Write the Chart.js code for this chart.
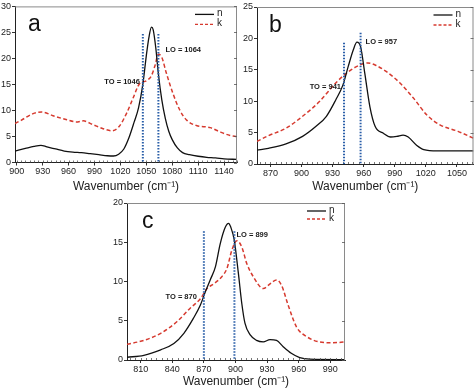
<!DOCTYPE html>
<html><head><meta charset="utf-8">
<script src="https://cdn.jsdelivr.net/npm/chart.js@4.4.1/dist/chart.umd.min.js"></script>
<style>
html,body{margin:0;padding:0;background:#fff;}
body{width:474px;height:392px;position:relative;overflow:hidden;}
.p{position:absolute;}
</style></head><body>
<div class="p" style="left:0;top:0;width:240px;height:195px"><canvas id="ca"></canvas></div>
<div class="p" style="left:240px;top:0;width:234px;height:195px"><canvas id="cb"></canvas></div>
<div class="p" style="left:110px;top:195px;width:240px;height:197px"><canvas id="cc"></canvas></div>
<script>
// ---------- Panel a ----------
const aNx = [898,910,920,928,935,945,955,965,975,985,995,1005,1012,1018,1024,1030,1036,1041,1046,1050,1053,1056,1058,1061,1064,1068,1072,1076,1080,1086,1092,1100,1110,1120,1130,1140,1155];
const aNy = [2.2,2.7,3.1,3.3,3.0,2.6,2.2,2.0,1.9,1.7,1.5,1.3,1.25,1.6,2.6,4.8,7.8,10.5,15.0,20.5,24,26,25.5,22,17,12,8.5,6,4.4,2.8,1.9,1.5,1.2,1.0,0.9,0.7,0.6];
const aKx = [898,905,919,929,942,958,969,977,988,1000,1010,1018,1027,1035,1042,1050,1056,1060,1064,1068,1073,1081,1089,1097,1108,1124,1135,1147,1155];
const aKy = [7.5,8.1,9.4,9.7,9.0,8.2,7.8,8.0,7.3,6.5,6.1,6.8,9.4,12.5,15.1,15.7,16.7,18.6,20.8,20.2,17.3,13.2,10.0,8.1,7.1,6.7,5.9,5.2,5.0];
const aXTicks = [900,930,960,990,1020,1050,1080,1110,1140];
const aYTicks = [0,5,10,15,20,25,30];
const aModes = [1046, 1064];
const aModeLabels = ['TO = 1046','LO = 1064'];

// ---------- Panel b ----------
const bNx = [857,868,885,901,914,924,933,940,945,950,953.5,957,961,966,971,979,986,992,998,1003,1011,1018,1031,1066];
const bNy = [2.2,2.5,3.2,4.4,6.0,7.6,10.2,12.6,15.5,18.2,19.4,18.7,14.5,9.1,6.0,4.9,4.3,4.4,4.6,4.3,3.0,2.3,2.1,2.1];
const bKx = [857,868,885,901,917,933,943,953,964,973,982,995,1008,1021,1034,1051,1066];
const bKy = [3.6,4.5,5.7,7.6,9.9,12.9,14.4,15.5,16.1,15.6,14.7,12.9,10.5,7.8,6.2,5.2,4.1];
const bXTicks = [870,900,930,960,990,1020,1050];
const bYTicks = [0,5,10,15,20,25];
const bModes = [941, 957];
const bModeLabels = ['TO = 941','LO = 957'];

// ---------- Panel c ----------
const cNx = [797,813,829,841.5,851,860,866.7,871.4,876,881,885.5,890.3,893.4,895.6,898.8,902.8,906,909,914,920,926.4,932.8,939,945.3,953,961,970.5,1004];
const cNy = [0.35,0.6,1.3,2.1,3.4,5.3,7.0,8.7,10.2,11.9,14.8,16.9,17.4,16.9,15.3,11.0,7.2,4.7,3.2,2.5,2.3,2.6,2.5,1.7,0.85,0.3,0.1,0.05];
const cKx = [797,813,829,844.6,857,866.7,873,879.3,887,892,896.6,901.3,906,910.7,917,926.4,932.8,939,943.8,950,958,967.3,980,992.5,1004];
const cKy = [2.0,2.5,3.4,4.9,6.6,7.8,9.1,9.7,10.6,11.7,14.0,15.2,14.4,12.3,10.6,9.1,9.7,10.2,9.5,7.0,4.2,3.0,2.3,2.2,2.3];
const cXTicks = [810,840,870,900,930,960,990];
const cYTicks = [0,5,10,15,20];
const cModes = [870, 899];
const cModeLabels = ['TO = 870','LO = 899'];

const seriesNames = ['n','k'];
const FONT = "'Liberation Sans', Arial, sans-serif";

function pts(xs, ys){ return xs.map((x,i)=>({x:x, y:ys[i]})); }

function decoPlugin(o){
  return {
    id:'deco'+o.letter,
    afterDatasetsDraw(chart){
      const ctx = chart.ctx, ca = chart.chartArea;
      const xs = chart.scales.x, ys = chart.scales.y;
      ctx.save();
      // frame (top/right)
      ctx.strokeStyle = '#8a8a8a'; ctx.lineWidth = 1;
      ctx.beginPath();
      ctx.moveTo(ca.left, ca.top+0.5); ctx.lineTo(ca.right-0.5, ca.top+0.5); ctx.lineTo(ca.right-0.5, ca.bottom);
      ctx.stroke();
      // minor ticks on bottom axis
      ctx.strokeStyle = '#555'; ctx.lineWidth = 0.8;
      ctx.beginPath();
      const start = Math.ceil(xs.min/5)*5;
      for(let v=start; v<=xs.max; v+=5){
        const px = Math.round(xs.getPixelForValue(v))+0.5;
        ctx.moveTo(px, ca.bottom); ctx.lineTo(px, ca.bottom-2);
      }
      // right axis ticks
      o.yt.forEach(v=>{ const py=Math.round(ys.getPixelForValue(v))+0.5; ctx.moveTo(ca.right, py); ctx.lineTo(ca.right-3, py); });
      ctx.stroke();
      // mode lines
      ctx.strokeStyle = '#2a5ea8'; ctx.lineWidth = 2; ctx.setLineDash([1.5,1.5]);
      o.modes.forEach((m,i)=>{
        const px = xs.getPixelForValue(m);
        ctx.beginPath();
        ctx.moveTo(px, ys.getPixelForValue(o.lineTop[i]));
        ctx.lineTo(px, ca.bottom);
        ctx.stroke();
      });
      ctx.setLineDash([]);
      // mode labels
      ctx.fillStyle = '#1a1a1a'; ctx.font = 'bold 7.5px ' + FONT; ctx.textBaseline = 'middle';
      o.modes.forEach((m,i)=>{
        const px = xs.getPixelForValue(m);
        const py = ys.getPixelForValue(o.labelY[i]);
        if(i===0){ ctx.textAlign='right'; ctx.fillText(o.modeLabels[i], px - o.dx[i], py); }
        else { ctx.textAlign='left'; ctx.fillText(o.modeLabels[i], px + o.dx[i], py); }
      });
      // legend
      const lx = ca.right - o.legR;
      ctx.lineWidth = 1.3; ctx.strokeStyle = '#111';
      ctx.beginPath(); ctx.moveTo(lx, ca.top+o.legY[0]); ctx.lineTo(lx+19, ca.top+o.legY[0]); ctx.stroke();
      ctx.strokeStyle = '#d63a2f'; ctx.lineWidth=1.4; ctx.setLineDash([3,2]);
      ctx.beginPath(); ctx.moveTo(lx, ca.top+o.legY[1]); ctx.lineTo(lx+19, ca.top+o.legY[1]); ctx.stroke();
      ctx.setLineDash([]);
      ctx.fillStyle = '#222'; ctx.font = '10px ' + FONT; ctx.textAlign='left'; ctx.textBaseline='middle';
      ctx.fillText(seriesNames[0], lx+22, ca.top+o.legY[0]-1);
      ctx.fillText(seriesNames[1], lx+22, ca.top+o.legY[1]-1);
      // panel letter
      ctx.fillStyle = '#111'; ctx.font = '23px ' + FONT; ctx.textBaseline='alphabetic'; ctx.textAlign='left';
      ctx.fillText(o.letter, ca.left + o.letX, ca.top + 25);
      ctx.restore();
    }
  };
}

function build(id, o){
  new Chart(document.getElementById(id), {
    type:'line',
    data:{datasets:[
      {label:seriesNames[0], data:pts(o.nx,o.ny), borderColor:'#111', borderWidth:1.3, pointRadius:0, cubicInterpolationMode:'monotone', fill:false},
      {label:seriesNames[1], data:pts(o.kx,o.ky), borderColor:'#d63a2f', borderWidth:1.5, borderDash:[4,2.5], pointRadius:0, cubicInterpolationMode:'monotone', fill:false}
    ]},
    options:{
      responsive:true, maintainAspectRatio:false, animation:false,
      layout:{padding:o.pad},
      plugins:{legend:{display:false}, tooltip:{enabled:false}},
      scales:{
        x:{type:'linear', min:o.xmin, max:o.xmax,
          afterBuildTicks:s=>{ s.ticks = o.xt.map(v=>({value:v})); },
          afterFit:s=>{ s.height = o.xh; },
          ticks:{autoSkip:false, maxRotation:0, minRotation:0, padding:1, color:'#222', font:{size:9, family:FONT}, callback:v=>String(v)},
          grid:{drawOnChartArea:false, tickLength:3, color:'#333'},
          border:{color:'#222', width:1},
          title:{display:true, text:'Wavenumber (cm\u207B\u00B9)', color:'#222', font:{size:12, family:FONT}, padding:{top:2, bottom:o.tpb}}
        },
        y:{type:'linear', min:o.ymin, max:o.ymax,
          afterBuildTicks:s=>{ s.ticks = o.yt.map(v=>({value:v})); },
          afterFit:s=>{ s.width = o.yw; },
          ticks:{padding:1, color:'#222', font:{size:9, family:FONT}, callback:v=>String(v)},
          grid:{drawOnChartArea:false, tickLength:3, color:'#333'},
          border:{color:'#222', width:1}
        }
      }
    },
    plugins:[decoPlugin(o)]
  });
}

build('ca', {letter:'a', nx:aNx, ny:aNy, kx:aKx, ky:aKy, xt:aXTicks, yt:aYTicks,
  xmin:898, xmax:1155, ymin:0, ymax:30, pad:{top:5, right:3, left:0, bottom:0}, yw:15, xh:32.5, tpb:1,
  modes:aModes, modeLabels:aModeLabels, lineTop:[24.7,24.7], labelY:[15.5,21.6], dx:[3,7],
  legR:42, legY:[8,18], letX:13});
build('cb', {letter:'b', nx:bNx, ny:bNy, kx:bKx, ky:bKy, xt:bXTicks, yt:bYTicks,
  xmin:857, xmax:1066, ymin:0, ymax:25, pad:{top:7, right:0.5, left:0, bottom:0}, yw:17, xh:31, tpb:1,
  modes:bModes, modeLabels:bModeLabels, lineTop:[19.3,20.9], labelY:[12.3,19.4], dx:[3,5],
  legR:40, legY:[8,18], letX:12});
build('cc', {letter:'c', nx:cNx, ny:cNy, kx:cKx, ky:cKy, xt:cXTicks, yt:cYTicks,
  xmin:797, xmax:1004, ymin:0, ymax:20, pad:{top:8, right:5, left:0, bottom:0}, yw:17, xh:32, tpb:3,
  modes:cModes, modeLabels:cModeLabels, lineTop:[16.4,16.4], labelY:[8.0,15.9], dx:[7,2],
  legR:38, legY:[8,16], letX:15});
</script>
</body></html>
